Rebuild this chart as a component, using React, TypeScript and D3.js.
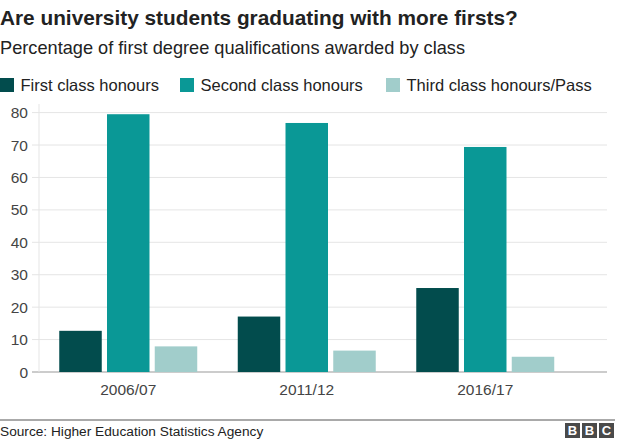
import React from "react";
import * as d3 from "d3";

const categories = ["2006/07", "2011/12", "2016/17"];
const seriesNames = ["First class honours", "Second class honours", "Third class honours/Pass"];
const firstClass = [12.7, 17.1, 25.9];
const secondClass = [79.5, 76.8, 69.4];
const thirdClass = [7.9, 6.6, 4.7];
const yTicks = [0, 10, 20, 30, 40, 50, 60, 70, 80];
const colors = ["#024c4d", "#0a9896", "#a1cdcb"];

const W = 640;
const H = 442;
const FONT = "'Liberation Sans', Arial, Helvetica, sans-serif";

export default function App() {
  const series = [firstClass, secondClass, thirdClass];
  const plotLeft = 39;
  const plotRight = 607;
  const y = d3.scaleLinear().domain([0, 80]).range([372, 112.6]);
  const x0 = d3.scaleBand<string>().domain(categories).range([39, 574.5]).paddingInner(0.227).paddingOuter(0.1135);
  const x1 = d3.scaleBand<number>().domain([0, 1, 2]).range([0, x0.bandwidth()]).paddingInner(0.11).paddingOuter(0);

  const legendX = [0, 180, 386];

  return (
    <svg
      width={W}
      height={H}
      style={{ position: "absolute", left: 0, top: 0, background: "#fff" }}
      fontFamily={FONT}
    >
      <rect x={0} y={0} width={W} height={H} fill="#fff" />
      <text x={0} y={25} fontSize={20.8} fontWeight="bold" fill="#222">
        Are university students graduating with more firsts?
      </text>
      <text x={0} y={54} fontSize={18.2} fill="#222">
        Percentage of first degree qualifications awarded by class
      </text>
      {seriesNames.map((n, i) => (
        <g key={n}>
          <rect x={legendX[i]} y={78} width={14} height={14} fill={colors[i]} />
          <text x={legendX[i] + 20.5} y={91} fontSize={16.5} fill="#222">
            {n}
          </text>
        </g>
      ))}
      {yTicks.map((t) => (
        <g key={t}>
          <line
            x1={32}
            x2={plotRight}
            y1={y(t)}
            y2={y(t)}
            stroke={t === 0 ? "#999" : "#e5e5e5"}
            strokeWidth={1}
          />
          <text x={28} y={y(t) + 5.5} fontSize={15.5} fill="#444" textAnchor="end">
            {t}
          </text>
        </g>
      ))}
      <line x1={plotLeft} x2={plotLeft} y1={104} y2={372} stroke="#e5e5e5" />
      {categories.map((c, ci) => (
        <g key={c} transform={`translate(${x0(c)},0)`}>
          {series.map((s, si) => (
            <rect
              key={si}
              x={x1(si)}
              y={y(s[ci])}
              width={x1.bandwidth()}
              height={y(0) - y(s[ci])}
              fill={colors[si]}
            />
          ))}
          <text x={x0.bandwidth() / 2} y={395} fontSize={15.5} fill="#444" textAnchor="middle">
            {c}
          </text>
        </g>
      ))}
      <line x1={0} x2={615} y1={420} y2={420} stroke="#555" strokeWidth={1} />
      <text x={0} y={436} fontSize={13.7} fill="#222">
        Source: Higher Education Statistics Agency
      </text>
      {["B", "B", "C"].map((l, i) => (
        <g key={i}>
          <rect x={565 + i * 17} y={423} width={15} height={15} fill="#4a4a4a" />
          <text
            x={565 + i * 17 + 7.5}
            y={435}
            fontSize={13}
            fontWeight="bold"
            fill="#fff"
            textAnchor="middle"
          >
            {l}
          </text>
        </g>
      ))}
    </svg>
  );
}
